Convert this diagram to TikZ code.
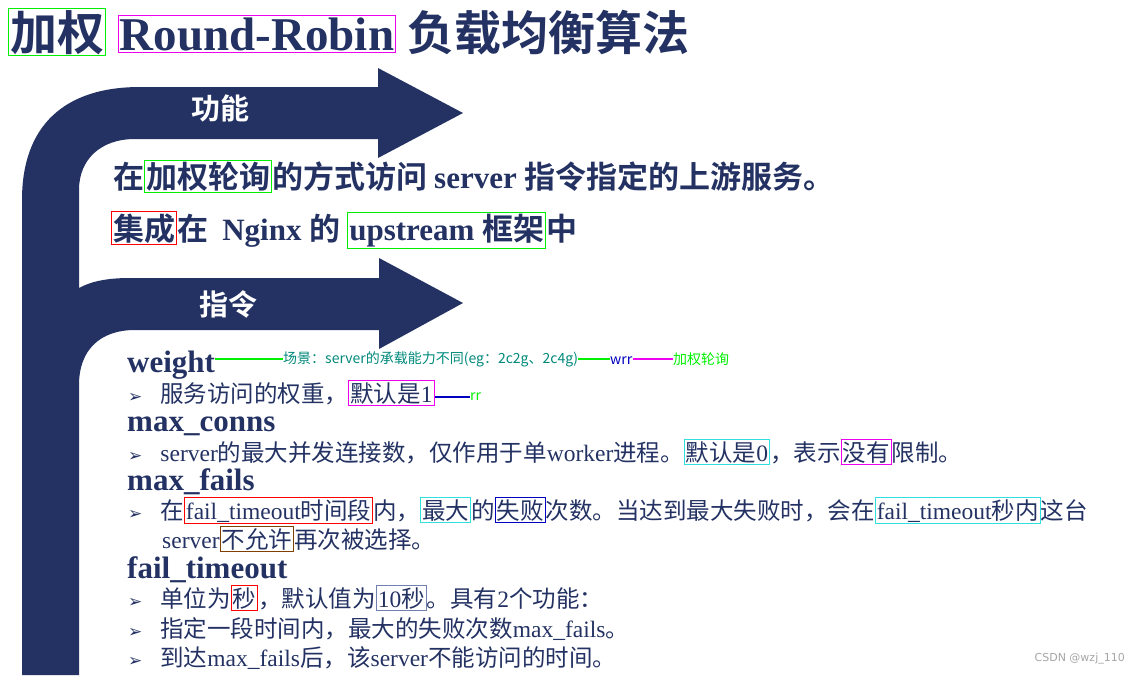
\documentclass[tikz,border=0pt]{standalone}
\usepackage{fontspec}
\setmainfont{Liberation Serif}
\newfontfamily\cjkfam{Noto Sans CJK SC}[BoldFont={Noto Sans CJK SC Bold}]
\newfontfamily\dvs{DejaVu Sans}
\newcommand\latinsw{\rmfamily}
\XeTeXinterchartokenstate=1
\newXeTeXintercharclass\CJKcls
\count255="4E00
\loop\XeTeXcharclass\count255=\CJKcls\ifnum\count255<"9FFF\advance\count255 by 1\repeat
\count255="3000
\loop\XeTeXcharclass\count255=\CJKcls\ifnum\count255<"303F\advance\count255 by 1\repeat
\count255="FF00
\loop\XeTeXcharclass\count255=\CJKcls\ifnum\count255<"FFEF\advance\count255 by 1\repeat
\XeTeXinterchartoks 0 \CJKcls={\cjkfam}
\XeTeXinterchartoks 4095 \CJKcls={\cjkfam}
\XeTeXinterchartoks \CJKcls 0={\latinsw}
\XeTeXinterchartoks 4095 0={\latinsw}
\definecolor{navy}{HTML}{233263}
\definecolor{bgreen}{HTML}{00F000}
\definecolor{bmag}{HTML}{F000F0}
\definecolor{bcyan}{HTML}{30E0E0}
\definecolor{bblue}{HTML}{0000C0}
\definecolor{bbrown}{HTML}{804000}
\definecolor{bgray}{HTML}{7080B0}
\definecolor{teal2}{HTML}{00897B}
\setlength\fboxsep{1pt}\setlength\fboxrule{1pt}
\newcommand\bx[2]{{\color{#1}\fbox{\color{navy}#2}}}
\newcommand\fs[1]{\fontsize{#1}{#1}\selectfont}
\newcommand\arr{{\let\latinsw\dvs\dvs\fs{17}➢}\hspace{18pt}}
\begin{document}
\begin{tikzpicture}[x=1pt,y=-1pt,
  txt/.style={anchor=base west,inner sep=0pt,text=navy},
  head/.style={txt,font=\fs{31}\bfseries},
  body/.style={txt,font=\fs{23.5}},
  ann/.style={anchor=west,inner sep=0pt,font=\fs{14}\let\latinsw\cjkfam\cjkfam},
  conn/.style={line width=1.2pt}]
\useasboundingbox (0,0) rectangle (1140,675);
\fill[navy] (22,675) -- (22,200) .. controls (22,125) and (65,87) .. (140,87) -- (378,87) -- (378,68) -- (463,113) -- (378,158) -- (378,139) -- (135,139) .. controls (100,139) and (79,160) .. (79,190) -- (79,288) .. controls (90,282) and (105,278) .. (130,278) -- (379,278) -- (379,258) -- (463,303) -- (379,349) -- (379,330) -- (135,330) .. controls (100,330) and (79,350) .. (79,385) -- (79,675) -- cycle;
\node[txt,font=\fs{47}\bfseries] (title) at (8,50) {\bx{bgreen}{加权} \bx{bmag}{Round-Robin} 负载均衡算法};
\node[text=white,font=\fs{29}\bfseries\cjkfam] (f1) at (220,108) {功能};
\node[text=white,font=\fs{29}\bfseries\cjkfam] (f2) at (228,304) {指令};
\node[txt,font=\fs{31}\bfseries] (l1) at (113,188) {在\bx{bgreen}{加权轮询}的方式访问 server 指令指定的上游服务。};
\node[txt,font=\fs{31}\bfseries] (l2) at (111,240) {\bx{red}{集成}在\ \ Nginx 的 \bx{bgreen}{upstream 框架}中};
\node[head] (weight) at (127,372) {weight};
\node[body] (d1) at (128,402) {\arr 服务访问的权重，\bx{bmag}{默认是1}};
\node[head] (mc) at (127,431) {max\_conns};
\node[body] (d2) at (128,461) {\arr server的最大并发连接数，仅作用于单worker进程。\bx{bcyan}{默认是0}，表示\bx{bmag}{没有}限制。};
\node[head] (mf) at (127,490) {max\_fails};
\node[body] (d3) at (128,519) {\arr 在\bx{red}{fail\_timeout时间段}内，\bx{bcyan}{最大}的\bx{bblue}{失败}次数。当达到最大失败时，会在\bx{bcyan}{fail\_timeout秒内}这台};
\node[body] (d3b) at (162,548) {server\bx{bbrown}{不允许}再次被选择。};
\node[head] (ft) at (127,578) {fail\_timeout};
\node[body] (d4) at (128,607) {\arr 单位为\bx{red}{秒}，默认值为\bx{bgray}{10秒}。具有2个功能：};
\node[body] (d5) at (128,637) {\arr 指定一段时间内，最大的失败次数max\_fails。};
\node[body] (d6) at (128,666) {\arr 到达max\_fails后，该server不能访问的时间。};
\node[ann,text=teal2] (scene) at (283,359) {场景：server的承载能力不同(eg：2c2g、2c4g)};
\node[ann,text=bblue] (wrr) at (610,361) {wrr};
\node[ann,text=bgreen] (jq) at (673,359) {加权轮询};
\node[ann,text=bgreen] (rr) at (470,397) {rr};
\draw[conn,draw=bgreen] (weight.east |- scene.west) -- (scene.west);
\draw[conn,draw=bgreen] (scene.east) -- (scene.east -| wrr.west);
\draw[conn,draw=bmag] (wrr.east |- jq.west) -- (jq.west);
\draw[conn,draw=bblue] (d1.east |- rr.west) -- (rr.west);
\node[anchor=east,inner sep=0pt,text=gray!70,font=\fs{11}\let\latinsw\dvs\dvs] (csdn) at (1125,659) {CSDN @wzj\_110};
\end{tikzpicture}
\end{document}
